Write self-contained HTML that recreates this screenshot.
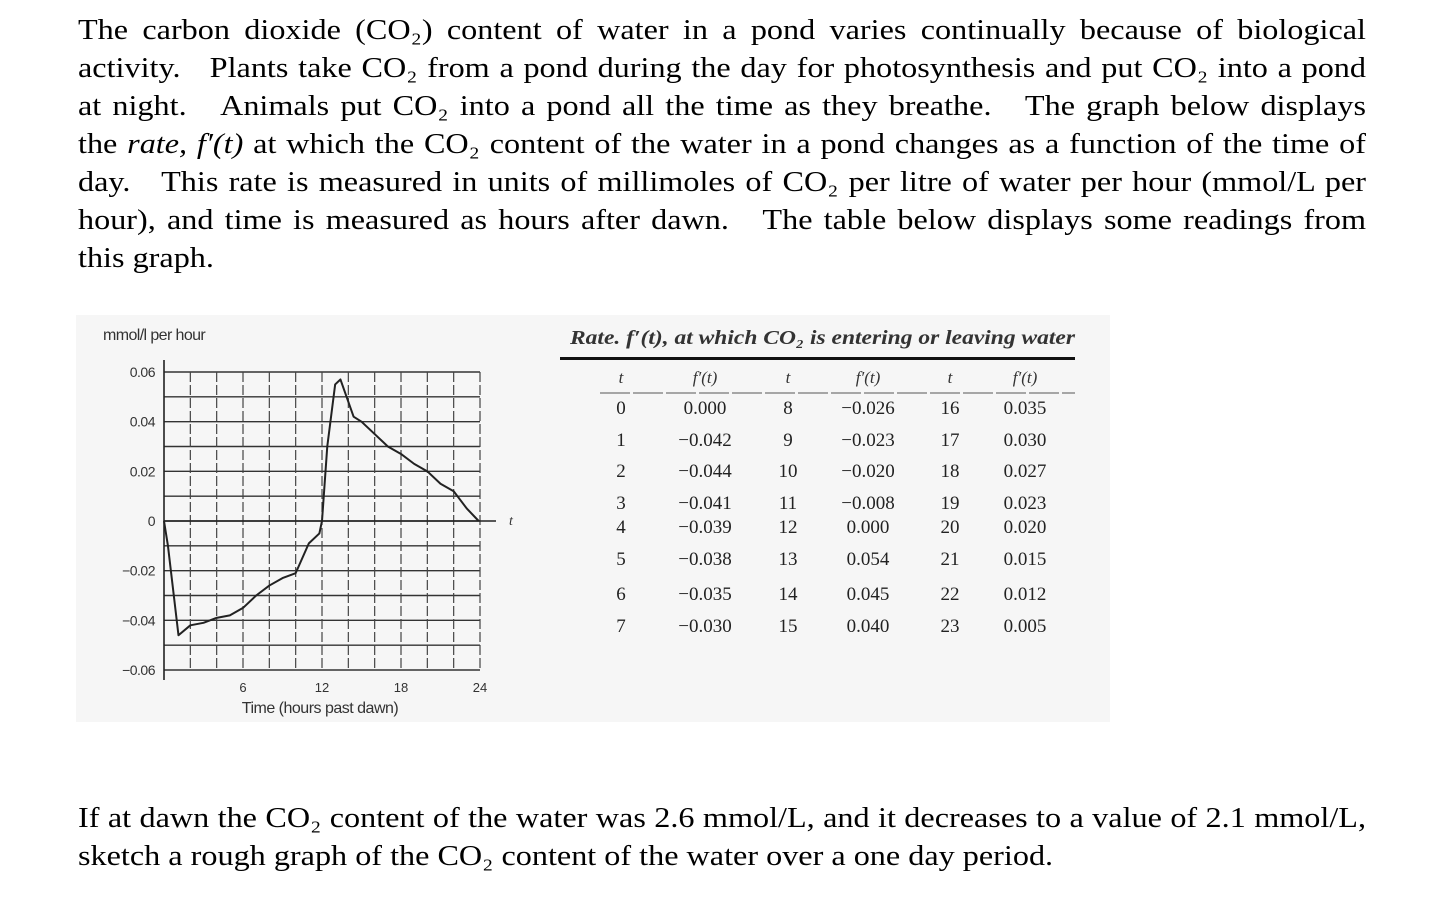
<!DOCTYPE html>
<html><head><meta charset="utf-8">
<style>
body{margin:0;width:1432px;height:902px;background:#fff;position:relative;overflow:hidden;font-family:"Liberation Serif",serif;color:#000}
.ln{position:absolute;left:78px;width:1120px;font-size:28px;line-height:38px;text-align:justify;text-align-last:justify;white-space:nowrap;transform:scaleX(1.15);transform-origin:0 0}
.ln.l{text-align-last:left}
</style></head><body>
<div>
<div class="ln" style="top:12px">The carbon dioxide (CO₂) content of water in a pond varies continually because of biological</div>
<div class="ln" style="top:50px">activity. &nbsp;&nbsp;Plants take CO₂ from a pond during the day for photosynthesis and put CO₂ into a pond</div>
<div class="ln" style="top:88px">at night. &nbsp;&nbsp;Animals put CO₂ into a pond all the time as they breathe. &nbsp;&nbsp;The graph below displays</div>
<div class="ln" style="top:126px">the <i>rate, f′(t)</i> at which the CO₂ content of the water in a pond changes as a function of the time of</div>
<div class="ln" style="top:164px">day. &nbsp;&nbsp;This rate is measured in units of millimoles of CO₂ per litre of water per hour (mmol/L per</div>
<div class="ln" style="top:202px">hour), and time is measured as hours after dawn. &nbsp;&nbsp;The table below displays some readings from</div>
<div class="ln l" style="top:240px">this graph.</div>
</div>
<div style="position:absolute;left:76px;top:315px;width:1034px;height:407px;background:#f6f6f6"></div>
<svg id="chart" width="1432" height="902" style="position:absolute;left:0;top:0" font-family="Liberation Sans, sans-serif"></svg>
<div>
<div class="ln" style="top:800px">If at dawn the CO₂ content of the water was 2.6 mmol/L, and it decreases to a value of 2.1 mmol/L,</div>
<div class="ln l" style="top:838px">sketch a rough graph of the CO₂ content of the water over a one day period.</div>
</div>
<script>
const curveT=[0,0.3,1.1,2,3,4,5,6,7,8,9,10,11,11.8,12,12.4,13,13.4,14,14.4,15,16,17,18,19,20,21,22,23,23.9];
const curveV=[0,-0.01,-0.046,-0.042,-0.041,-0.039,-0.038,-0.035,-0.030,-0.026,-0.023,-0.021,-0.009,-0.005,0,0.03,0.055,0.057,0.048,0.042,0.040,0.035,0.030,0.027,0.023,0.020,0.015,0.012,0.005,0];
const yTicks=[0.06,0.04,0.02,0,-0.02,-0.04,-0.06];
const yTickLabels=["0.06","0.04","0.02","0","\u22120.02","\u22120.04","\u22120.06"];
const xTicks=[6,12,18,24];
const tCol1=[0,1,2,3,4,5,6,7],fCol1=["0.000","\u22120.042","\u22120.044","\u22120.041","\u22120.039","\u22120.038","\u22120.035","\u22120.030"];
const tCol2=[8,9,10,11,12,13,14,15],fCol2=["\u22120.026","\u22120.023","\u22120.020","\u22120.008","0.000","0.054","0.045","0.040"];
const tCol3=[16,17,18,19,20,21,22,23],fCol3=["0.035","0.030","0.027","0.023","0.020","0.015","0.012","0.005"];
const NS="http://www.w3.org/2000/svg",svg=document.getElementById('chart');
const X=t=>164+t*(316/24), Y=v=>521-v*(149/0.06);
function el(tag,a,txt){const e=document.createElementNS(NS,tag);for(const k in a)e.setAttribute(k,a[k]);if(txt!=null)e.textContent=txt;svg.appendChild(e);return e;}
for(let i=-6;i<=6;i++){const g=el('line',{x1:164,x2:480,y1:Y(i*0.01),y2:Y(i*0.01),stroke:'#333','stroke-width':1.4});

}
for(let t=2;t<=24;t+=2){const g=el('line',{x1:X(t),x2:X(t),y1:Y(0.06),y2:Y(-0.06),stroke:'#444','stroke-width':1.2,'stroke-dasharray':'10 3'});

}
const ya=el('line',{x1:164,x2:164,y1:360,y2:680,stroke:'#222','stroke-width':1.6});


const xa=el('line',{x1:164,x2:496,y1:Y(0),y2:Y(0),stroke:'#222','stroke-width':1.6});


yTicks.forEach((v,i)=>{const t=el('text',{x:155,y:Y(v)+5,'text-anchor':'end','font-size':14,fill:'#333','letter-spacing':'-0.5'},yTickLabels[i]);

});
xTicks.forEach(v=>{const t=el('text',{x:X(v),y:692,'text-anchor':'middle','font-size':13,fill:'#333'},v);

});
const yt=el('text',{x:103,y:340,'font-size':16,fill:'#333','letter-spacing':'-0.6'},'mmol/l per hour');


const xt=el('text',{x:320,y:713,'text-anchor':'middle','font-size':16,fill:'#333','letter-spacing':'-0.5'},'Time (hours past dawn)');


const tl=el('text',{x:509,y:525,'font-size':14,'font-style':'italic',fill:'#333','font-family':'Liberation Serif, serif'},'t');


const p=el('polyline',{points:curveT.map((t,i)=>X(t)+','+Y(curveV[i])).join(' '),fill:'none',stroke:'#222','stroke-width':2,'stroke-linejoin':'round'});


const rowsY=[398,430,461,493,517,549,584,616];
const tcap=el('text',{x:570,y:344,'font-size':20,'font-style':'italic','font-weight':'bold','font-family':'Liberation Serif, serif',fill:'#333',textLength:505,lengthAdjust:'spacingAndGlyphs'},'Rate. f\u2032(t), at which CO\u2082 is entering or leaving water');


const r1=el('rect',{x:560,y:357,width:515,height:3,fill:'#111'});


const r2=el('line',{x1:600,x2:1075,y1:393,y2:393,stroke:'#555','stroke-width':1,'stroke-dasharray':'30 3'});


const cols=[[621,705,tCol1,fCol1],[788,868,tCol2,fCol2],[950,1025,tCol3,fCol3]];
cols.forEach(c=>{
 let h=el('text',{x:c[0],y:383,'text-anchor':'middle','font-size':17,'font-style':'italic','font-family':'Liberation Serif, serif',fill:'#333'},'t');
 
 
 h=el('text',{x:c[1],y:383,'text-anchor':'middle','font-size':17,'font-style':'italic','font-family':'Liberation Serif, serif',fill:'#333'},"f\u2032(t)");
 
 
 c[2].forEach((t,i)=>{
  let a=el('text',{x:c[0],y:rowsY[i]+16,'text-anchor':'middle','font-size':19,'font-family':'Liberation Serif, serif',fill:'#222'},t);
  
  
  let b=el('text',{x:c[1],y:rowsY[i]+16,'text-anchor':'middle','font-size':19,'font-family':'Liberation Serif, serif',fill:'#222'},c[3][i]);
  
  
 });
});
</script>
</body></html>
